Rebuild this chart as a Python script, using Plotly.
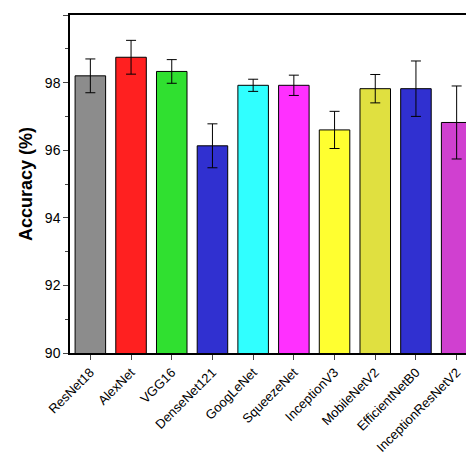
import plotly.graph_objects as go

models = ["ResNet18", "AlexNet", "VGG16", "DenseNet121", "GoogLeNet", "SqueezeNet",
          "InceptionV3", "MobileNetV2", "EfficientNetB0", "InceptionResNetV2"]
accuracy = [98.2, 98.75, 98.33, 96.13, 97.92, 97.92, 96.6, 97.82, 97.82, 96.82]
errors = [0.5, 0.5, 0.35, 0.65, 0.18, 0.3, 0.55, 0.42, 0.82, 1.08]
colors = ["#8c8c8c", "#ff2020", "#30e030", "#3030d0", "#30ffff", "#ff30ff",
          "#ffff30", "#e0e040", "#3030d0", "#d040d0"]

fig = go.Figure(go.Bar(
    x=models, y=accuracy, width=0.75,
    marker=dict(color=colors, line=dict(color="black", width=1)),
    error_y=dict(type="data", array=errors, color="black", thickness=1, width=5),
))
fig.update_layout(
    width=474, height=456, margin=dict(l=62, r=5, t=7, b=111, autoexpand=False),
    plot_bgcolor="white", paper_bgcolor="white",
    font=dict(family="Liberation Sans, Arial", color="black", size=13),
    showlegend=False,
)
fig.update_yaxes(range=[90, 100], dtick=2, showline=True, linecolor="black", linewidth=1.5,
                 mirror=True, ticks="outside", ticklen=5, showgrid=False,
                 minor=dict(ticks="outside", ticklen=3, dtick=1),
                 title=dict(text="<b>Accuracy (%)</b>", font=dict(size=18), standoff=8),
                 tickfont=dict(size=14))
fig.update_xaxes(showline=True, linecolor="black", linewidth=1.5, mirror=True,
                 ticks="outside", ticklen=5, tickangle=-45, showgrid=False,
                 tickfont=dict(size=13))
fig.write_html("out.html")
